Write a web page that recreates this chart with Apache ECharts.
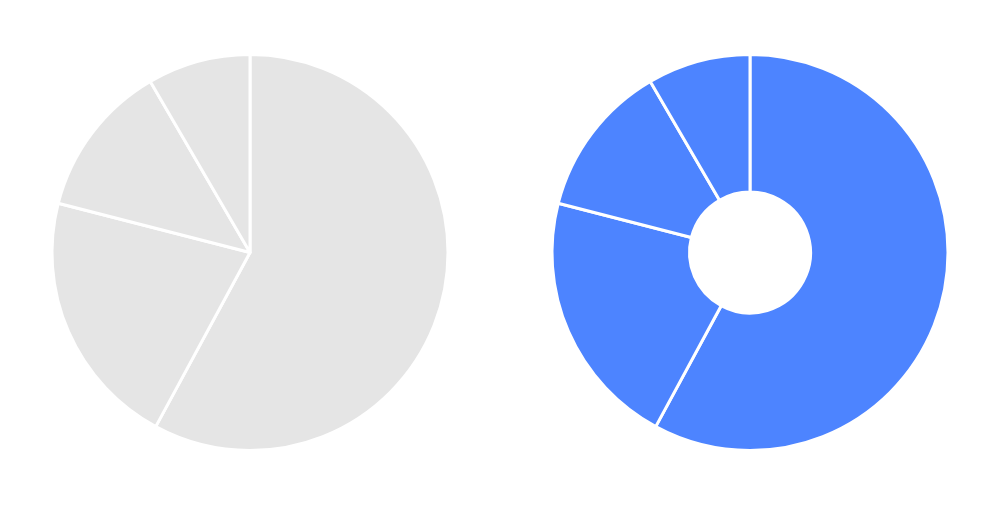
<!DOCTYPE html>
<html>
<head>
<meta charset="utf-8">
<script src="https://cdn.jsdelivr.net/npm/echarts@6/dist/echarts.min.js"></script>
<style>html,body{margin:0;padding:0;background:#fff}#c{width:1000px;height:505px}</style>
</head>
<body>
<div id="c"></div>
<script>
const categories = ['A', 'B', 'C', 'D'];
const values = [57.9, 21.1, 12.6, 8.4];

const chart = echarts.init(document.getElementById('c'), null, {renderer: 'canvas'});
const data = categories.map((n, i) => ({name: n, value: values[i]}));
chart.setOption({
  animation: false,
  series: [
    {
      type: 'pie',
      center: ['25%', '50%'],
      radius: [0, 198],
      startAngle: 90,
      clockwise: true,
      label: {show: false},
      labelLine: {show: false},
      silent: true,
      itemStyle: {color: '#e5e5e5', borderColor: '#fff', borderWidth: 3},
      data: data
    },
    {
      type: 'pie',
      center: ['75%', '50%'],
      radius: [60.5, 198],
      startAngle: 90,
      clockwise: true,
      label: {show: false},
      labelLine: {show: false},
      silent: true,
      itemStyle: {color: '#4d84ff', borderColor: '#fff', borderWidth: 3},
      data: data
    }
  ]
});
</script>
</body>
</html>
